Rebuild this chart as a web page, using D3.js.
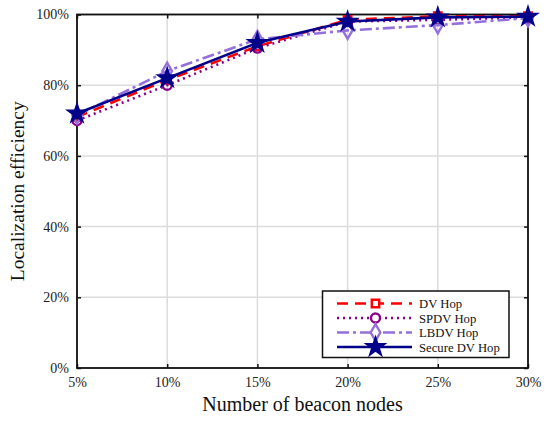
<!DOCTYPE html>
<html>
<head>
<meta charset="utf-8">
<script src="https://cdn.jsdelivr.net/npm/d3@7"></script>
<style>
  body { margin: 0; background: #fff; }
  text { font-family: "Liberation Serif", "DejaVu Serif", serif; }
</style>
</head>
<body>
<div id="chart"></div>
<script>
// data
var beacons = ["5%", "10%", "15%", "20%", "25%", "30%"];
var dvHop = [71, 81.5, 91, 98.5, 99.5, 99.5];
var spdvHop = [70, 80, 90.5, 98, 98.5, 99.2];
var lbdvHop = [71.5, 84, 93, 95.5, 97, 99];
var secureDvHop = [72, 82, 92, 98, 99.2, 99.4];
var yTicks = [0, 20, 40, 60, 80, 100];

var series = [
  { name: "DV Hop", values: dvHop, color: "#ff0000", dash: "11,7", symbol: d3.symbolSquare, fill: "none", size: 55 },
  { name: "SPDV Hop", values: spdvHop, color: "#8b008b", dash: "2,4", symbol: d3.symbolCircle, fill: "none", size: 65 },
  { name: "LBDV Hop", values: lbdvHop, color: "#9370db", dash: "12,4,3,4", symbol: d3.symbolDiamond, fill: "none", size: 80 },
  { name: "Secure DV Hop", values: secureDvHop, color: "#00008b", dash: null, symbol: d3.symbolStar, fill: "#00008b", size: 85 }
];

var W = 550, H = 421;
var svg = d3.select("#chart").append("svg").attr("width", W).attr("height", H);

var pLeft = 77, pRight = 528, pTop = 14.5, pBottom = 368;

var x = d3.scalePoint().domain(beacons).range([pLeft, pRight]);
var y = d3.scaleLinear().domain([0, 100]).range([pBottom, pTop]);

// grid
svg.append("g").selectAll("line")
  .data(beacons).enter().append("line")
  .attr("x1", function (d) { return x(d); }).attr("x2", function (d) { return x(d); })
  .attr("y1", pTop).attr("y2", pBottom)
  .attr("stroke", "#dcdcdc").attr("stroke-width", 1.5);
svg.append("g").selectAll("line")
  .data(yTicks).enter().append("line")
  .attr("x1", pLeft).attr("x2", pRight)
  .attr("y1", function (d) { return y(d); }).attr("y2", function (d) { return y(d); })
  .attr("stroke", "#dcdcdc").attr("stroke-width", 1.5);

// axes with inward ticks
var pct = function (d) { return d + "%"; };
svg.append("g").attr("transform", "translate(0," + pBottom + ")")
  .call(d3.axisBottom(x).tickSizeInner(-4).tickSizeOuter(0).tickPadding(9))
  .call(function (g) { g.select(".domain").remove(); });
svg.append("g").attr("transform", "translate(0," + pTop + ")")
  .call(d3.axisTop(x).tickSizeInner(-4).tickSizeOuter(0).tickFormat(""))
  .call(function (g) { g.select(".domain").remove(); });
svg.append("g").attr("transform", "translate(" + pLeft + ",0)")
  .call(d3.axisLeft(y).tickValues(yTicks).tickFormat(pct).tickSizeInner(-4).tickSizeOuter(0).tickPadding(8))
  .call(function (g) { g.select(".domain").remove(); });
svg.append("g").attr("transform", "translate(" + pRight + ",0)")
  .call(d3.axisRight(y).tickValues(yTicks).tickFormat("").tickSizeInner(-4).tickSizeOuter(0))
  .call(function (g) { g.select(".domain").remove(); });

svg.selectAll(".tick line").attr("stroke", "#111").attr("stroke-width", 1.5);
svg.selectAll(".tick text").attr("fill", "#222").style("font-size", "14px")
  .style("font-family", "'Liberation Serif', serif");

svg.append("rect")
  .attr("x", pLeft).attr("y", pTop)
  .attr("width", pRight - pLeft).attr("height", pBottom - pTop)
  .attr("fill", "none").attr("stroke", "#111").attr("stroke-width", 1.8);

// lines and markers
var line = d3.line()
  .x(function (d, i) { return x(beacons[i]); })
  .y(function (d) { return y(d); });

series.forEach(function (s) {
  svg.append("path")
    .attr("d", line(s.values))
    .attr("fill", "none")
    .attr("stroke", s.color)
    .attr("stroke-width", 2.6)
    .attr("stroke-dasharray", s.dash);
  svg.append("g").selectAll("path")
    .data(s.values).enter().append("path")
    .attr("transform", function (d, i) { return "translate(" + x(beacons[i]) + "," + y(d) + ")"; })
    .attr("d", d3.symbol().type(s.symbol).size(s.size))
    .attr("fill", s.fill)
    .attr("stroke", s.color)
    .attr("stroke-width", 2.4);
});

// legend
var lg = svg.append("g");
lg.append("rect")
  .attr("x", 322.5).attr("y", 291)
  .attr("width", 186.5).attr("height", 66.5)
  .attr("fill", "#fff").attr("stroke", "#111").attr("stroke-width", 1.5);
series.forEach(function (s, i) {
  var ly = 303.5 + i * 14.5;
  lg.append("line")
    .attr("x1", 337).attr("x2", 412)
    .attr("y1", ly).attr("y2", ly)
    .attr("stroke", s.color).attr("stroke-width", 2.6)
    .attr("stroke-dasharray", s.dash);
  lg.append("path")
    .attr("transform", "translate(375.5," + ly + ")")
    .attr("d", d3.symbol().type(s.symbol).size(s.size))
    .attr("fill", s.fill === "none" ? "#fff" : s.fill)
    .attr("stroke", s.color).attr("stroke-width", 2.4);
  lg.append("text")
    .attr("x", 419).attr("y", ly + 4.5)
    .style("font-size", "12.7px")
    .attr("fill", "#111")
    .text(s.name);
});

// axis titles
svg.append("text")
  .attr("x", (pLeft + pRight) / 2).attr("y", 411)
  .attr("text-anchor", "middle")
  .style("font-size", "20px").attr("fill", "#111")
  .text("Number of beacon nodes");
svg.append("text")
  .attr("transform", "translate(24," + ((pTop + pBottom) / 2) + ") rotate(-90)")
  .attr("text-anchor", "middle")
  .style("font-size", "19.5px").attr("fill", "#111")
  .text("Localization efficiency");
</script>
</body>
</html>
